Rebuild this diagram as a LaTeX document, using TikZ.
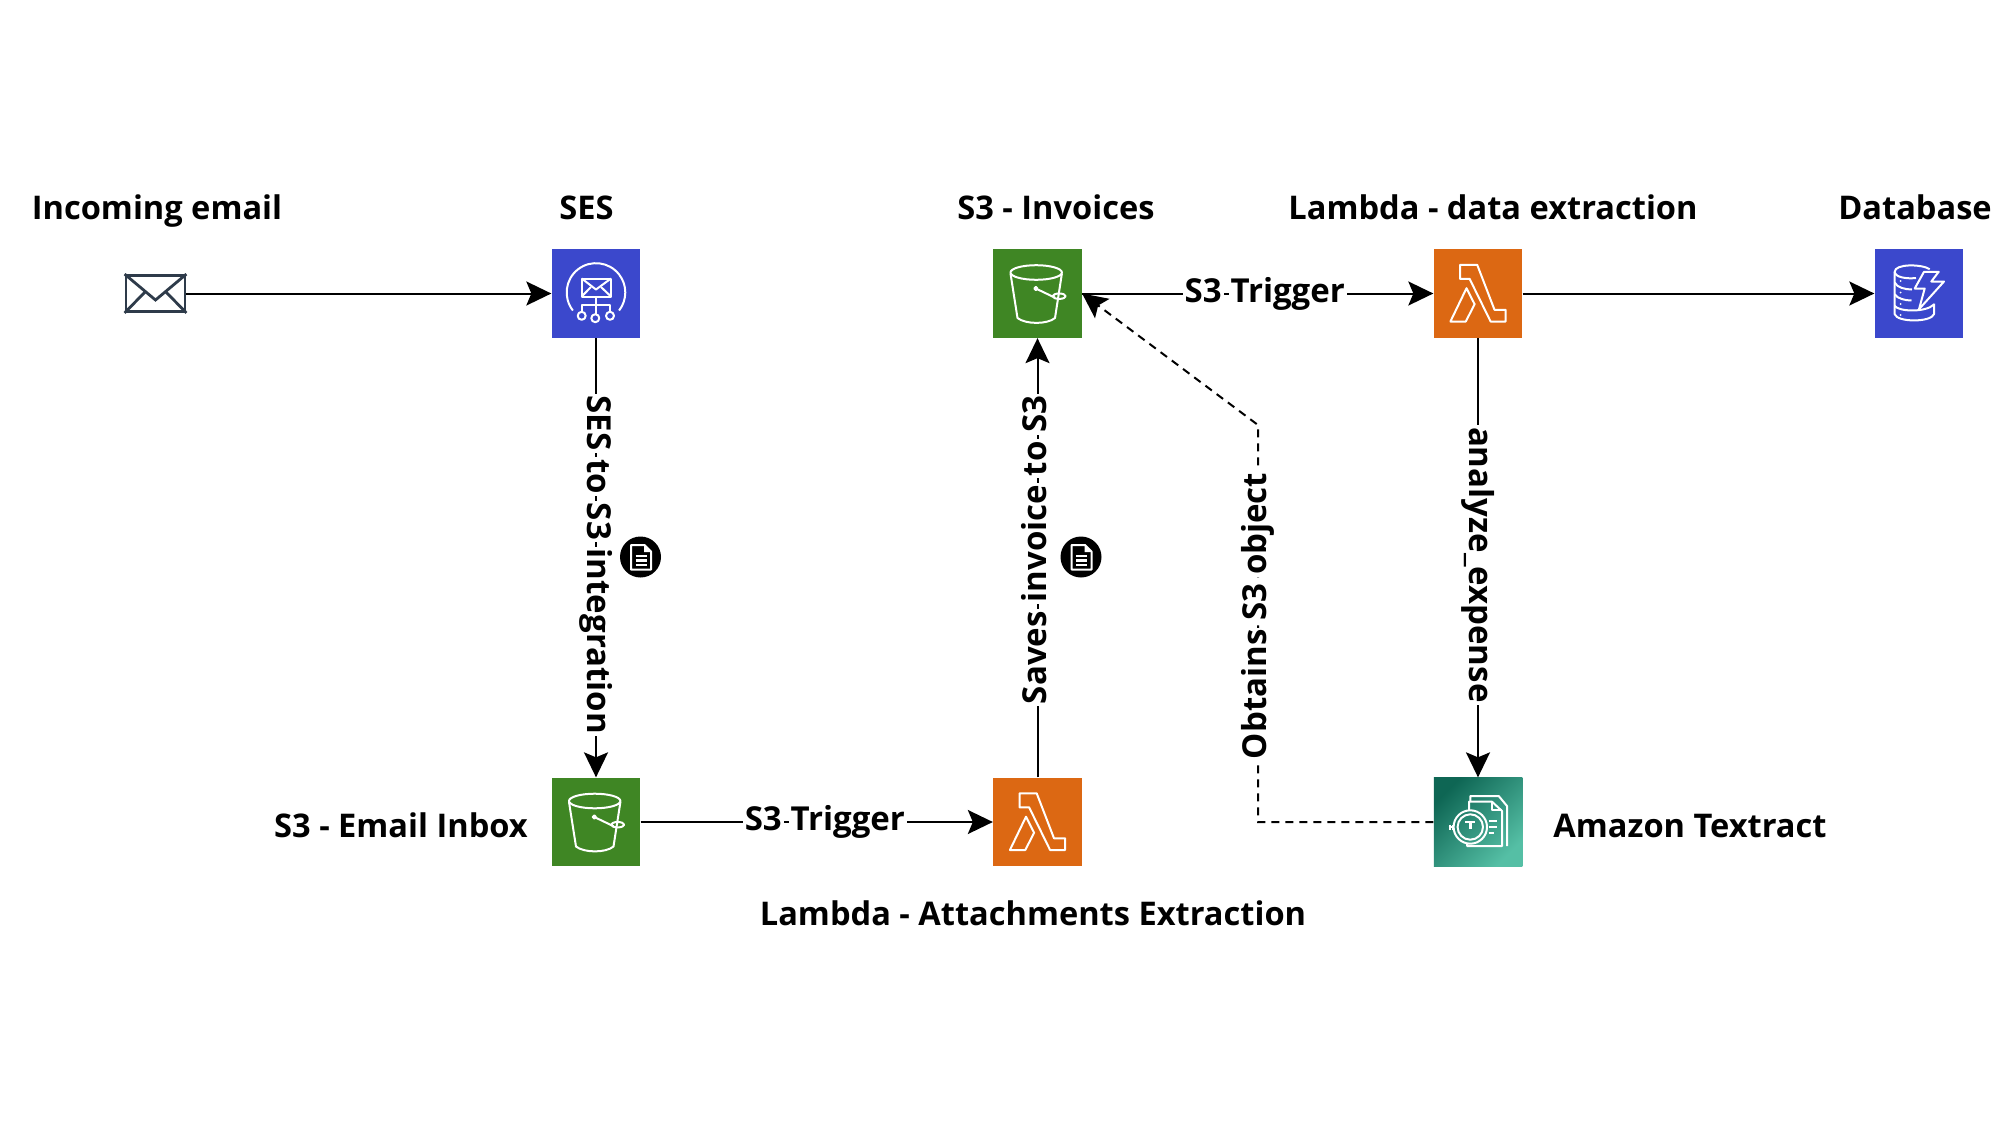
\documentclass[tikz,border=0pt]{standalone}
\usepackage{fontspec}
\setmainfont{Open Sans}
\usetikzlibrary{arrows.meta}
\definecolor{awsblue}{HTML}{3B48CC}
\definecolor{awsgreen}{HTML}{3F8624}
\definecolor{awsorange}{HTML}{DC6813}
\definecolor{mailink}{HTML}{2E3B4A}
\definecolor{textractdark}{HTML}{0E6654}
\definecolor{textractlight}{HTML}{55BFA5}
\setlength{\fboxsep}{1pt}
\newcommand{\wbox}[1]{\colorbox{white}{#1}}
\newcommand{\wgap}{\hspace{2.4pt}}
\tikzset{
  awsbox/.style={rectangle, inner sep=0pt, minimum size=44.25pt},
  caption/.style={inner sep=0pt, anchor=base, font=\fontsize{16.3}{19}\selectfont\bfseries},
  edgelab/.style={inner sep=0pt, text height=12.5pt, text depth=4pt, font=\fontsize{16.5}{19}\selectfont\bfseries},
  flow/.style={line width=1pt, -{Stealth[length=12.5pt, width=12pt, inset=2.5pt]}},
  badge/.style={circle, fill=black, inner sep=0pt, minimum size=20.5pt},
  icon/.style={draw=white, line width=1pt, line join=round},
  pics/bucket/.style={code={
    \draw[icon] (-1.3,-21) circle [x radius=25.7, y radius=7.3];
    \draw[icon] (-27,-20) -- (-20,24.5) .. controls (-12,31) and (10,31) .. (17.5,24.5) -- (24.4,-20);
    \draw[icon] (-1.7,-5) circle [radius=1.6];
    \draw[icon] (-1.7,-5) -- (17.7,4.3);
    \draw[icon] (21.7,2.7) circle [x radius=6.5, y radius=2.7];
  }},
  pics/lambdaicon/.style={code={
    \draw[icon] (-18,-28.7) -- (-.8,-28.7) -- (16.5,16.3) -- (27.6,16.3) -- (27.6,28) -- (12.6,28) -- (-8.4,-14.7) -- (-18,-14.7) -- cycle;
    \draw[icon] (-11.5,-5.3) -- (-3.4,10.7) -- (-12.2,28) -- (-27.6,28) -- cycle;
  }},
  pics/sesicon/.style={code={
    \draw[icon] (-23.1,17) arc [start angle=142, end angle=398, radius=29.3];
    \draw[icon] (-14.3,-15) rectangle (15,3);
    \draw[icon] (-14.3,-15) -- (0,-4) -- (15,-15);
    \draw[icon] (-14.3,3) -- (-5,-6.5);
    \draw[icon] (15,3) -- (5,-6.5);
    \draw[icon] (0,3) -- (0,20.7);
    \draw[icon] (-14.3,18.3) -- (-14.3,11.7) -- (14,11.7) -- (14,18.3);
    \foreach \cx/\cy in {-14.3/22.3, -.7/24.7, 14/22.3}
      \draw[icon] (\cx,\cy) circle [radius=4];
  }},
  pics/dbicon/.style={code={
    \draw[icon] (10.7,-24.3) .. controls (3,-29.5) and (-24.3,-30) .. (-24.3,-21.7) -- (-24.3,20.7) .. controls (-22,29) and (12,29) .. (15,20.7) -- (15,10);
    \draw[icon] (-24.3,-21.7) .. controls (-24,-16) and (-12,-14.5) .. (-3,-15.5);
    \draw[icon] (-24.3,-11) .. controls (-22,-6) and (-14,-4) .. (-7,-4);
    \draw[icon] (-24.3,.7) .. controls (-22,5) and (-14,7) .. (-7.5,7);
    \draw[icon] (-24.3,12.3) .. controls (-21,18) and (6,19.5) .. (15,11);
    \foreach \dy in {-12.5,-1,10.5,21.5}
      \fill[white] (-18.3,\dy) circle [radius=1];
    \draw[icon] (5,-21.7) -- (19.7,-21.7) -- (12.3,-12) -- (25,-12) -- (0,15.7) -- (5.7,-5) -- (-4.3,-5) -- cycle;
  }},
  pics/textracticon/.style={code={
    \draw[icon] (-7.7,-20.3) -- (-7.7,-26) -- (20.7,-26) -- (29,-16) -- (29,24);
    \draw[icon] (-9,-12) -- (-9,-20.3) -- (14,-20.3) -- (24,-11) -- (24,24) -- (-11,24) -- (-11,21);
    \draw[icon] (14,-20.3) -- (14,-11.7) -- (24,-11.7);
    \draw[icon] (-7.7,5) circle [radius=16.7];
    \draw[icon] (-7.7,5) circle [radius=12.7];
    \draw[icon] (10.7,-1) -- (19,-1);
    \draw[icon] (10.7,5) -- (19,5);
    \draw[icon] (10.7,10.7) -- (15.7,10.7);
    \draw[icon, line width=1.3pt] (-12.7,0) -- (-2.7,0);
    \draw[icon, line width=1.3pt] (-7.7,0) -- (-7.7,7);
    \draw[icon] (-29.3,5) -- (-24.4,5);
    \draw[icon] (-28,2.5) -- (-28,7.5);
    \draw[icon] (-25.5,2.5) -- (-25.5,7.5);
  }},
  pics/docicon/.style={code={
    \draw[white, line width=1pt, line join=round] (-9.5,-12) -- (4,-12) -- (10.5,-5.5) -- (10.5,12.5) -- (-9.5,12.5) -- cycle;
    \fill[white] (3.5,-12) -- (10.5,-5) -- (3.5,-5) -- cycle;
    \foreach \ly in {-1,3.5,8}
      \draw[white, line width=1.1pt] (-5,\ly) -- (6,\ly);
  }},
}
\begin{document}
\begin{tikzpicture}[x=.5pt, y=-.5pt]
  \useasboundingbox (0,0) rectangle (1999,1125);
  \node [draw=mailink, line width=1.4pt, inner sep=0pt, minimum width=29.5pt, minimum height=18pt] (mail) at (155.5,293.5) {};
  \node [awsbox, fill=awsblue] (ses) at (596,293.5) {};
  \node [awsbox, fill=awsgreen] (s3invoices) at (1037.5,293.5) {};
  \node [awsbox, fill=awsorange] (lambdadata) at (1478,293.5) {};
  \node [awsbox, fill=awsblue] (database) at (1919,293.5) {};
  \node [awsbox, fill=awsgreen] (s3inbox) at (596,822) {};
  \node [awsbox, fill=awsorange] (lambdaatt) at (1037.5,822) {};
  \node [awsbox, left color=textractdark, right color=textractlight, shading angle=45] (textract) at (1478,822) {};
  \node [badge] (docses) at (640.5,557) {};
  \node [badge] (docsave) at (1081,557) {};

  \draw [mailink, line width=1.4pt] (mail.north west) -- (155.5,300) -- (mail.north east);
  \draw [mailink, line width=1.4pt] (mail.south west) -- (146,291);
  \draw [mailink, line width=1.4pt] (mail.south east) -- (165,291);
  \pic at (ses) {sesicon};
  \pic at (s3invoices) {bucket};
  \pic at (lambdadata) {lambdaicon};
  \pic at (database) {dbicon};
  \pic at (s3inbox) {bucket};
  \pic at (lambdaatt) {lambdaicon};
  \pic at (textract) {textracticon};
  \pic at (docses) {docicon};
  \pic at (docsave) {docicon};

  \node [caption] (mailcap) at (157,219) {Incoming email};
  \node [caption] (sescap) at (586.5,219) {SES};
  \node [caption] (invcap) at (1056,219) {S3 - Invoices};
  \node [caption] (datacap) at (1493,219) {Lambda - data extraction};
  \node [caption] (dbcap) at (1915,219) {Database};
  \node [caption] (inboxcap) at (401,837.5) {S3 - Email Inbox};
  \node [caption] (textractcap) at (1690,837.5) {Amazon Textract};
  \node [caption] (attcap) at (1033,925) {Lambda - Attachments Extraction};

  \draw [flow] (mail) -- (ses);
  \draw [flow] (ses) -- node [edgelab, pos=.516, rotate=-90] {\wbox{SES}\wgap\wbox{to}\wgap\wbox{S3}\wgap\wbox{integration}} (s3inbox);
  \draw [flow] (s3inbox) -- node [edgelab, pos=.523] {\wbox{S3}\wgap\wbox{Trigger}} (lambdaatt);
  \draw [flow] (lambdaatt) -- node [edgelab, pos=.518, rotate=90] {\wbox{Saves}\wgap\wbox{invoice}\wgap\wbox{to}\wgap\wbox{S3}} (s3invoices);
  \draw [flow] (s3invoices) -- node [edgelab, pos=.52] {\wbox{S3}\wgap\wbox{Trigger}} (lambdadata);
  \draw [flow] (lambdadata) -- (database);
  \draw [flow] (lambdadata) -- node [edgelab, pos=.516, rotate=-90] {\wbox{analyze\_expense}} (textract);
  \coordinate (dashcorner) at (1258,822);
  \coordinate (dashbend) at (1258,425);
  \draw [flow, dash pattern=on 4pt off 3pt] (textract) -- (dashcorner) -- node [edgelab, pos=.519, rotate=90] {\wbox{Obtains}\wgap\wbox{S3}\wgap\wbox{object}} (dashbend) -- (s3invoices.east);
\end{tikzpicture}
\end{document}
